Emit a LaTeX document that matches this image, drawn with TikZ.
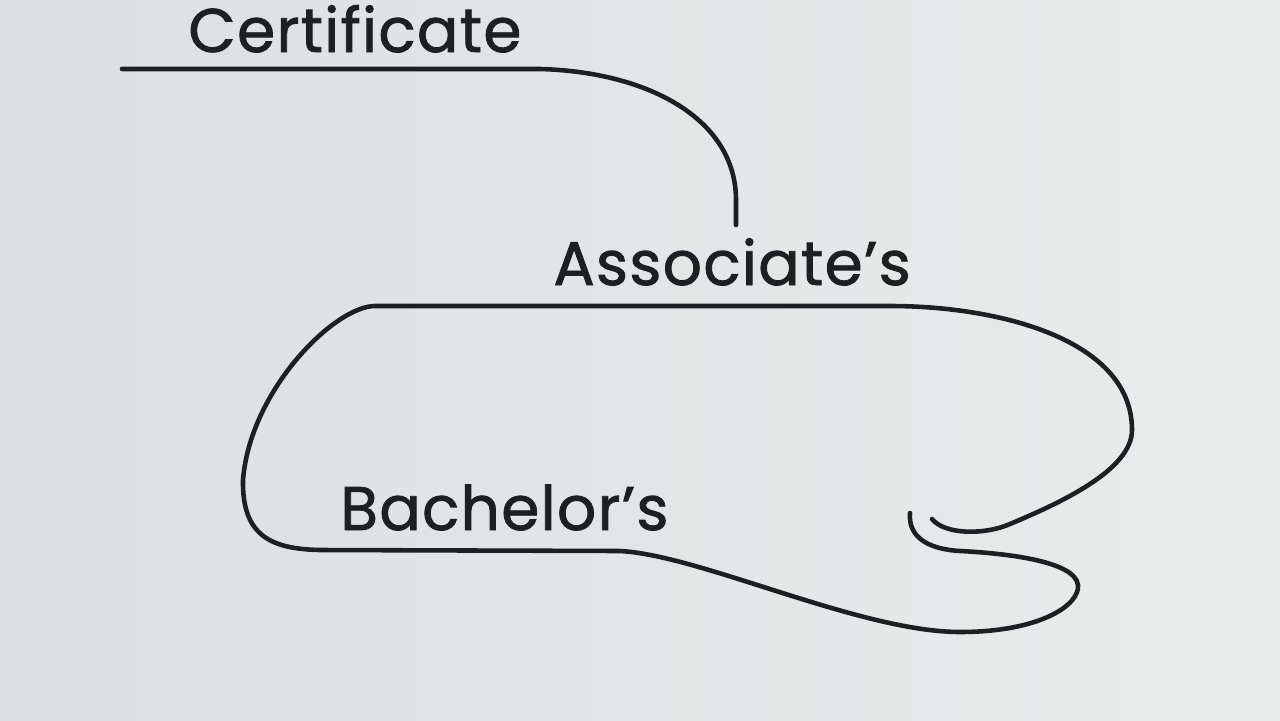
\documentclass[tikz,border=0pt]{standalone}
\usepackage{fontspec}
\setmainfont{Poppins}[LetterSpace=2, FakeBold=1.3]
\definecolor{ink}{RGB}{28,32,35}
\definecolor{bgleft}{RGB}{220,223,224}
\definecolor{bgright}{RGB}{234,236,236}
\tikzset{
  stroke/.style={draw=ink, line width=2.6pt, line cap=round, line join=round},
  degree/.style={anchor=base west, inner sep=0pt, text=ink, font=\fontsize{35}{40}\selectfont}
}
\begin{document}
\begin{tikzpicture}[x=0.02cm, y=-0.02cm]
	\shade[left color=bgleft, right color=bgright] (0,0) rectangle (1280,720);
	\useasboundingbox (0,0) rectangle (1280,720);
	\node (cert) at (188,52) [degree] {Certificate};
	\node (assoc) at (553,285) [degree] {Associate's};
	\node (bach) at (340,530) [degree] {Bachelor's};
	% certificate line
	\coordinate (c0) at (122,69);
	\coordinate (c1) at (736,225);
	\draw[stroke] (c0) -- (540,69) .. controls (650,72) and (736,120) .. (736,200) -- (c1);
	% big loop
	\coordinate (h0) at (932,519);
	\coordinate (h1) at (910,513);
	\draw[stroke] (h0) .. controls (945,535) and (985,535) .. (1010,524)
		.. controls (1060,503) and (1132,470) .. (1132,430)
		.. controls (1132,340) and (1000,306) .. (890,306)
		-- (375,306)
		.. controls (335,306) and (250,390) .. (243,480)
		.. controls (242,535) and (270,549) .. (320,550)
		-- (620,551)
		.. controls (700,555) and (860,632) .. (960,632)
		.. controls (1040,632) and (1080,605) .. (1078,585)
		.. controls (1075,560) and (1000,553) .. (960,551)
		.. controls (925,549) and (908,535) .. (h1);
\end{tikzpicture}
\end{document}
